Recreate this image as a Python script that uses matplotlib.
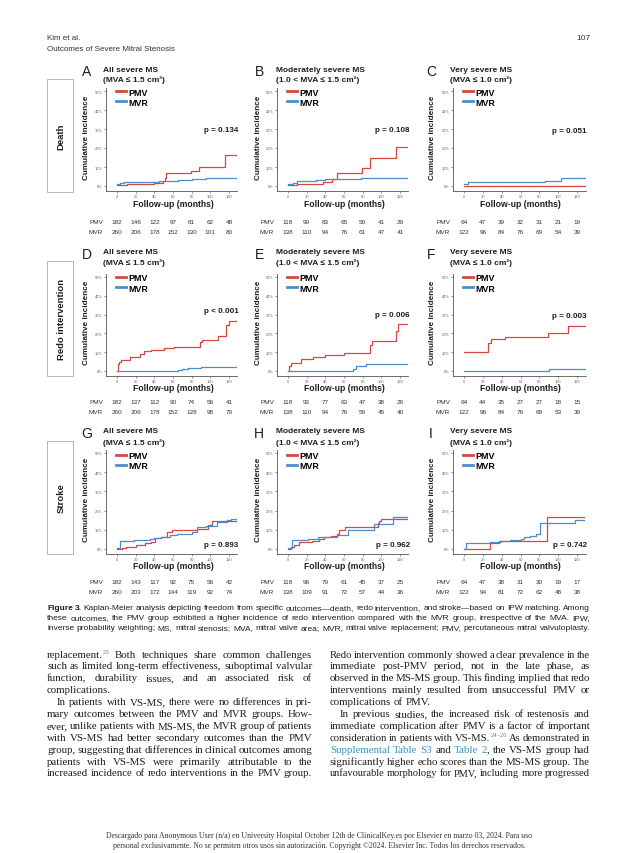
import re
import statistics
import matplotlib
matplotlib.use('Agg')
import matplotlib.pyplot as plt
from matplotlib.patches import Rectangle

# ---------------- data ----------------
TIME_POINTS = [0, 20, 40, 60, 80, 100, 120]
X_TICK_LABELS = ['0', '20', '40', '60', '80', '100', '120']
Y_TICKS = [0, 10, 20, 30, 40, 50]
Y_TICK_LABELS = ['0%', '10%', '20%', '30%', '40%', '50%']
OUTCOMES = ['Death', 'Redo intervention', 'Stroke']
PANEL_LETTERS = ['A', 'B', 'C', 'D', 'E', 'F', 'G', 'H', 'I']
SUBGROUP_TITLES = ['All severe MS', 'Moderately severe MS', 'Very severe MS']
SUBGROUP_RANGES = ['(MVA ≤ 1.5 cm²)', '(1.0 < MVA ≤ 1.5 cm²)', '(MVA ≤ 1.0 cm²)']
GROUPS = ['PMV', 'MVR']
P_VALUES = ['p = 0.134', 'p = 0.108', 'p = 0.051',
            'p < 0.001', 'p = 0.006', 'p = 0.003',
            'p = 0.893', 'p = 0.962', 'p = 0.742']

# Death
death_all_pmv_t = [0, 11, 40, 49, 51, 53, 79, 88, 116, 128]
death_all_pmv_y = [0.3, 1.0, 1.6, 2.8, 4.0, 6.8, 8.0, 10.0, 16.2, 16.2]
death_all_mvr_t = [0, 3, 8, 30, 45, 65, 80, 95, 110, 128]
death_all_mvr_y = [0.8, 1.4, 2.0, 2.2, 2.6, 3.0, 3.5, 4.0, 4.4, 4.4]
death_all_pmv_n = [182, 146, 122, 97, 81, 62, 48]
death_all_mvr_n = [260, 206, 178, 152, 130, 101, 80]

death_mod_pmv_t = [0, 10, 37, 47, 52, 79, 88, 116, 128]
death_mod_pmv_y = [0.5, 1.2, 2.3, 3.8, 6.8, 9.7, 14.8, 20.5, 20.5]
death_mod_mvr_t = [0, 5, 10, 30, 40, 78, 128]
death_mod_mvr_y = [0.8, 1.8, 2.5, 3.0, 3.6, 4.2, 4.2]
death_mod_pmv_n = [118, 99, 83, 65, 50, 41, 29]
death_mod_mvr_n = [138, 110, 94, 76, 61, 47, 41]

death_vs_pmv_t = [0, 128]
death_vs_pmv_y = [0.0, 0.0]
death_vs_mvr_t = [0, 4, 86, 103, 128]
death_vs_mvr_y = [1.0, 1.9, 2.8, 4.0, 4.0]
death_vs_pmv_n = [64, 47, 39, 32, 31, 21, 19]
death_vs_mvr_n = [122, 96, 84, 76, 69, 54, 39]

# Redo intervention
redo_all_pmv_t = [0, 1, 2, 4, 14, 25, 29, 36, 50, 61, 89, 91, 108, 117, 120, 128]
redo_all_pmv_y = [0, 3.5, 5.0, 6.0, 7.5, 9.0, 10.5, 11.2, 12.0, 12.6, 15.5, 16.3, 18.5, 24.5, 26.5, 26.5]
redo_all_mvr_t = [0, 65, 70, 76, 85, 90, 128]
redo_all_mvr_y = [0, 0.5, 1.0, 1.4, 1.8, 2.0, 2.0]
redo_all_pmv_n = [182, 137, 112, 90, 74, 56, 41]
redo_all_mvr_n = [260, 206, 178, 152, 128, 98, 79]

redo_mod_pmv_t = [0, 1, 3, 14, 27, 40, 60, 88, 90, 116, 118, 128]
redo_mod_pmv_y = [0, 2.5, 4.5, 6.5, 7.5, 8.5, 9.8, 14.0, 16.0, 21.5, 25.0, 25.0]
redo_mod_mvr_t = [0, 70, 73, 84, 128]
redo_mod_mvr_y = [0, 1.2, 2.5, 3.5, 3.5]
redo_mod_pmv_n = [118, 93, 77, 63, 47, 38, 26]
redo_mod_mvr_n = [138, 110, 94, 76, 59, 45, 40]

redo_vs_pmv_t = [0, 26, 29, 43, 89, 110, 129]
redo_vs_pmv_y = [10.0, 15.0, 16.8, 18.2, 20.3, 24.0, 24.0]
redo_vs_mvr_t = [0, 90, 129]
redo_vs_mvr_y = [0, 1.0, 1.0]
redo_vs_pmv_n = [64, 44, 35, 27, 27, 18, 15]
redo_vs_mvr_n = [122, 96, 84, 76, 69, 53, 39]

# Stroke
stroke_all_pmv_t = [0, 5, 10, 20, 30, 36, 41, 47, 54, 59, 86, 98, 102, 128]
stroke_all_pmv_y = [0, 0.5, 1.0, 2.0, 3.0, 3.5, 5.5, 6.0, 9.0, 10.0, 10.5, 12.5, 14.5, 14.5]
stroke_all_mvr_t = [0, 3, 18, 35, 40, 47, 57, 64, 80, 86, 95, 107, 118, 122, 128]
stroke_all_mvr_y = [0.5, 4.0, 4.5, 5.0, 5.5, 6.0, 7.5, 8.0, 9.0, 11.5, 12.0, 14.0, 15.0, 15.5, 15.5]
stroke_all_pmv_n = [182, 143, 117, 92, 75, 56, 42]
stroke_all_mvr_n = [260, 203, 172, 144, 119, 92, 74]

stroke_mod_pmv_t = [0, 3, 6, 12, 26, 33, 39, 46, 53, 55, 61, 96, 98, 100, 128]
stroke_mod_pmv_y = [0, 1.0, 2.0, 3.5, 4.0, 5.0, 6.5, 7.0, 8.0, 10.0, 11.4, 13.5, 14.5, 15.5, 15.5]
stroke_mod_mvr_t = [0, 4, 21, 32, 39, 52, 64, 92, 113, 128]
stroke_mod_mvr_y = [0.5, 4.5, 5.0, 6.0, 6.5, 7.5, 10.0, 13.0, 16.5, 16.5]
stroke_mod_pmv_n = [118, 96, 79, 61, 45, 37, 25]
stroke_mod_mvr_n = [138, 109, 91, 72, 57, 44, 36]

stroke_vs_pmv_t = [0, 28, 37, 88, 127]
stroke_vs_pmv_y = [0, 3.0, 4.0, 16.5, 16.5]
stroke_vs_mvr_t = [0, 2, 28, 39, 49, 60, 63.5, 70, 76, 81, 118, 127]
stroke_vs_mvr_y = [0, 3.0, 3.5, 4.0, 4.5, 5.0, 6.0, 7.0, 8.0, 13.5, 15.0, 15.0]
stroke_vs_pmv_n = [64, 47, 38, 31, 30, 19, 17]
stroke_vs_mvr_n = [122, 94, 81, 72, 62, 48, 38]

PANELS = [
    (death_all_pmv_t, death_all_pmv_y, death_all_mvr_t, death_all_mvr_y, death_all_pmv_n, death_all_mvr_n),
    (death_mod_pmv_t, death_mod_pmv_y, death_mod_mvr_t, death_mod_mvr_y, death_mod_pmv_n, death_mod_mvr_n),
    (death_vs_pmv_t, death_vs_pmv_y, death_vs_mvr_t, death_vs_mvr_y, death_vs_pmv_n, death_vs_mvr_n),
    (redo_all_pmv_t, redo_all_pmv_y, redo_all_mvr_t, redo_all_mvr_y, redo_all_pmv_n, redo_all_mvr_n),
    (redo_mod_pmv_t, redo_mod_pmv_y, redo_mod_mvr_t, redo_mod_mvr_y, redo_mod_pmv_n, redo_mod_mvr_n),
    (redo_vs_pmv_t, redo_vs_pmv_y, redo_vs_mvr_t, redo_vs_mvr_y, redo_vs_pmv_n, redo_vs_mvr_n),
    (stroke_all_pmv_t, stroke_all_pmv_y, stroke_all_mvr_t, stroke_all_mvr_y, stroke_all_pmv_n, stroke_all_mvr_n),
    (stroke_mod_pmv_t, stroke_mod_pmv_y, stroke_mod_mvr_t, stroke_mod_mvr_y, stroke_mod_pmv_n, stroke_mod_mvr_n),
    (stroke_vs_pmv_t, stroke_vs_pmv_y, stroke_vs_mvr_t, stroke_vs_mvr_y, stroke_vs_pmv_n, stroke_vs_mvr_n),
]

HEADER_AUTHOR = 'Kim et al.'
HEADER_TITLE = 'Outcomes of Severe Mitral Stenosis'
PAGE_NUMBER = '107'

CAPTION_LINES = [
    '**Figure** **3.** Kaplan-Meier analysis depicting freedom from specific outcomes—death, redo intervention, and stroke—based on IPW matching. Among',
    'these outcomes, the PMV group exhibited a higher incidence of redo intervention compared with the MVR group, irrespective of the MVA. IPW,',
    'inverse probability weighting; MS, mitral stenosis; MVA, mitral valve area; MVR, mitral valve replacement; PMV, percutaneous mitral valvuloplasty.',
]
LEFT_COLUMN = [
    ('replacement.^{23} Both techniques share common challenges', True, 0),
    ('such as limited long-term effectiveness, suboptimal valvular', True, 0),
    ('function, durability issues, and an associated risk of', True, 0),
    ('complications.', False, 0),
    ('In patients with VS-MS, there were no differences in pri-', True, 10),
    ('mary outcomes between the PMV and MVR groups. How-', True, 0),
    ('ever, unlike patients with MS-MS, the MVR group of patients', True, 0),
    ('with VS-MS had better secondary outcomes than the PMV', True, 0),
    ('group, suggesting that differences in clinical outcomes among', True, 0),
    ('patients with VS-MS were primarily attributable to the', True, 0),
    ('increased incidence of redo interventions in the PMV group.', True, 0),
]
RIGHT_COLUMN = [
    ('Redo intervention commonly showed a clear prevalence in the', True, 0),
    ('immediate post-PMV period, not in the late phase, as', True, 0),
    ('observed in the MS-MS group. This finding implied that redo', True, 0),
    ('interventions mainly resulted from unsuccessful PMV or', True, 0),
    ('complications of PMV.', False, 0),
    ('In previous studies, the increased risk of restenosis and', True, 10),
    ('immediate complication after PMV is a factor of important', True, 0),
    ('consideration in patients with VS-MS.^{24–26} As demonstrated in', True, 0),
    ('[[Supplemental]] [[Table]] [[S3]] and [[Table]] [[2]], the VS-MS group had', True, 0),
    ('significantly higher echo scores than the MS-MS group. The', True, 0),
    ('unfavourable morphology for PMV, including more progressed', True, 0),
]
FOOTER_LINES = [
    'Descargado para Anonymous User (n/a) en University Hospital October 12th de ClinicalKey.es por Elsevier en marzo 03, 2024. Para uso',
    'personal exclusivamente. No se permiten otros usos sin autorización. Copyright ©2024. Elsevier Inc. Todos los derechos reservados.',
]

# ---------------- layout / style ----------------
W, H = 638, 854
fig = plt.figure(figsize=(W / 100, H / 100), dpi=100)
fig.patch.set_facecolor('white')
renderer = fig.canvas.get_renderer()

SANS = ['Liberation Sans', 'DejaVu Sans']
SERIF = ['Liberation Serif', 'DejaVu Serif']
RED = '#d8473f'
BLUE = '#4d8ccc'
LINK = '#3a93c4'
TXT = '#1e1e1e'


def fx(x):
    return x / W


def fy(y):
    return 1 - y / H


COL_ZERO = [117, 288, 464]
COL_SCALE = [0.933, 0.933, 0.942]
ROW_ZERO = [187, 372, 550]
ROW_SCALE = [1.9, 1.88, 1.92]
XLIM = (-12, 129)
YLIM = (-2.7, 51.5)

TITLE_Y = [70, 253, 432]
RANGE_Y = [80, 263, 443]
LETTER_X = [87, 259, 431]
TITLE_X = [103, 276, 450]
YLABEL_X = [87, 258, 432]
XLABEL_Y = [204.5, 388.5, 566.5]
RISK_Y = [(223, 232.5), (403, 412.5), (583, 592.5)]
LEGEND_Y = [93.3, 279.3, 456.7]
P_Y = [[29.5, 30.0, 29.0], [32.0, 30.0, 29.5], [2.6, 2.5, 2.5]]
BOX_Y = [(79.5, 193), (262, 377), (442, 555)]

for i, (pt, py, mt, my, pn, mn) in enumerate(PANELS):
    r, c = divmod(i, 3)
    left = COL_ZERO[c] + XLIM[0] * COL_SCALE[c]
    right = COL_ZERO[c] + XLIM[1] * COL_SCALE[c]
    bottom = ROW_ZERO[r] - YLIM[0] * ROW_SCALE[r]
    top = ROW_ZERO[r] - YLIM[1] * ROW_SCALE[r]
    ax = fig.add_axes([fx(left), fy(bottom), (right - left) / W, (bottom - top) / H])
    ax.set_xlim(XLIM)
    ax.set_ylim(YLIM)
    ax.step(pt, py, where='post', color=RED, lw=0.9, label=GROUPS[0])
    ax.step(mt, my, where='post', color=BLUE, lw=0.9, label=GROUPS[1])
    for s in ('top', 'right'):
        ax.spines[s].set_visible(False)
    for s in ('left', 'bottom'):
        ax.spines[s].set_linewidth(0.6)
        ax.spines[s].set_color('#555555')
    ax.set_xticks(TIME_POINTS)
    ax.set_xticklabels(X_TICK_LABELS, fontsize=2.9, family=SANS)
    ax.set_yticks(Y_TICKS)
    ax.set_yticklabels(Y_TICK_LABELS, fontsize=2.9, family=SANS)
    ax.tick_params(length=1.3, width=0.5, pad=0.9, colors='#666666')

    # legend
    lx = (COL_ZERO[c] - 1.5 - left) / (right - left)
    ly = (bottom - (LEGEND_Y[r] - 4.8)) / (bottom - top)
    leg = ax.legend(loc='upper left', bbox_to_anchor=(lx, ly), frameon=False,
                    prop={'family': SANS, 'weight': 'bold', 'size': 6.4},
                    handlelength=1.15, handletextpad=0.25, labelspacing=0.12,
                    borderpad=0, borderaxespad=0)
    for ln in leg.get_lines():
        ln.set_linewidth(2.0)

    # p-value
    ax.text(1.01, P_Y[r][c], P_VALUES[i], transform=ax.get_yaxis_transform(),
            ha='right', va='center', fontsize=5.8, fontweight='bold', family=SANS, color=TXT)

    # titles
    fig.text(fx(LETTER_X[c]), fy(TITLE_Y[r] + 2), PANEL_LETTERS[i], ha='center', va='center',
             fontsize=10, family=SANS, color=TXT)
    fig.text(fx(TITLE_X[c]), fy(TITLE_Y[r]), SUBGROUP_TITLES[c], ha='left', va='center',
             fontsize=6.0, fontweight='bold', family=SANS, color=TXT)
    fig.text(fx(TITLE_X[c]), fy(RANGE_Y[r]), SUBGROUP_RANGES[c], ha='left', va='center',
             fontsize=6.0, fontweight='bold', family=SANS, color=TXT)

    # axis labels
    fig.text(fx(YLABEL_X[c]), fy((top + bottom) / 2 - 3), 'Cumulative incidence', rotation=90,
             ha='center', va='center', fontsize=5.9, fontweight='bold', family=SANS, color=TXT)
    fig.text(fx(COL_ZERO[c] + 60 * COL_SCALE[c]), fy(XLABEL_Y[r]), 'Follow-up (months)',
             ha='center', va='center', fontsize=6.2, fontweight='bold', family=SANS, color=TXT)

    # risk table
    for g, counts, yy in ((GROUPS[0], pn, RISK_Y[r][0]), (GROUPS[1], mn, RISK_Y[r][1])):
        fig.text(fx(COL_ZERO[c] - 14), fy(yy), g, ha='right', va='center',
                 fontsize=4.6, family=SANS, color='#333333')
        for t, n in zip(TIME_POINTS, counts):
            fig.text(fx(COL_ZERO[c] + t * COL_SCALE[c]), fy(yy), str(n), ha='center', va='center',
                     fontsize=4.6, family=SANS, color='#333333')

# row label boxes
for r, name in enumerate(OUTCOMES):
    y0, y1 = BOX_Y[r]
    fig.patches.append(Rectangle((fx(47), fy(y1)), 26 / W, (y1 - y0) / H, transform=fig.transFigure,
                                 fill=False, edgecolor='#b5b5b5', linewidth=0.7))
    fig.text(fx(61), fy((y0 + y1) / 2), name, rotation=90, ha='center', va='center',
             fontsize=6.8, fontweight='bold', family=SANS, color=TXT)

# ---------------- page text ----------------
TOKEN = re.compile(r'\^\{(.*?)\}|\[\[(.*?)\]\]|\*\*(.*?)\*\*|([^\^\[\*]+)')


def word_segments(word):
    segs = []
    for m in TOKEN.finditer(word):
        if m.group(1) is not None:
            segs.append((m.group(1), 'sup'))
        elif m.group(2) is not None:
            segs.append((m.group(2), 'link'))
        elif m.group(3) is not None:
            segs.append((m.group(3), 'bold'))
        else:
            segs.append((m.group(4), 'n'))
    return segs


def measure(s, size, family, weight='normal'):
    t = fig.text(0, 0, s, fontsize=size, family=family, fontweight=weight)
    w = t.get_window_extent(renderer).width
    t.remove()
    return w


def space_width(size, family):
    return measure('a a', size, family) - measure('aa', size, family)


def words_width(line, size, family):
    tot = 0
    for w in line.split(' '):
        for txt, st in word_segments(w):
            sz = size * 0.62 if st == 'sup' else size
            wt = 'bold' if st == 'bold' else 'normal'
            tot += measure(txt, sz, family, wt)
    return tot


def natural_fit(line, avail, family, base, squeeze):
    n = len(line.split(' '))
    ww = words_width(line, base, family)
    return base * avail / (ww + squeeze * (n - 1) * space_width(base, family))


def fit_target(lines, avails, family, base=7.0):
    ks = [natural_fit(l, a, family, base, 1.0) for l, a in zip(lines, avails)]
    return statistics.median(ks)


def draw_line(line, x0, x1, y, size, family, justify, color=TXT):
    words = line.split(' ')
    placed = []
    total = 0
    for w in words:
        items = []
        for txt, st in word_segments(w):
            kw = dict(fontsize=size, family=family, color=color, fontweight='normal')
            dy = 0
            if st == 'sup':
                kw['fontsize'] = size * 0.62
                kw['color'] = LINK
                dy = size * 0.5
            elif st == 'link':
                kw['color'] = LINK
            elif st == 'bold':
                kw['fontweight'] = 'bold'
            t = fig.text(0, 0, txt, ha='left', va='baseline', **kw)
            wd = t.get_window_extent(renderer).width
            items.append((t, dy, wd))
            total += wd
        placed.append(items)
    n = len(placed)
    gap = (x1 - x0 - total) / (n - 1) if (justify and n > 1) else space_width(size, family)
    x = x0
    for items in placed:
        for t, dy, wd in items:
            t.set_position((fx(x), fy(y - dy)))
            x += wd
        x += gap


# header
fig.text(fx(47), fy(40.5), HEADER_AUTHOR, ha='left', va='baseline', fontsize=5.8, family=SANS, color='#333333')
fig.text(fx(47), fy(51), HEADER_TITLE, ha='left', va='baseline', fontsize=5.8, family=SANS, color='#333333')
fig.text(fx(590), fy(40.5), PAGE_NUMBER, ha='right', va='baseline', fontsize=6.0, family=SANS, color='#333333')

# caption
cap_target = min(fit_target(CAPTION_LINES, [543] * 3, SANS, 5.5), 6.4)
for k, line in enumerate(CAPTION_LINES):
    s = min(cap_target, natural_fit(line, 543, SANS, 5.5, 0.7))
    draw_line(line, 47, 590, 610.5 + 9.6 * k, s, SANS, True)

# body columns
just_lines = [l for l, j, ind in LEFT_COLUMN if j] + [l for l, j, ind in RIGHT_COLUMN if j]
just_avail = [265 - ind for l, j, ind in LEFT_COLUMN if j] + [260 - ind for l, j, ind in RIGHT_COLUMN if j]
body_target = min(fit_target(just_lines, just_avail, SERIF, 7.0), 8.6)
for col, x0, x1 in ((LEFT_COLUMN, 47, 312), (RIGHT_COLUMN, 330, 590)):
    for k, (line, just, indent) in enumerate(col):
        s = body_target
        if just:
            s = min(body_target, natural_fit(line, x1 - x0 - indent, SERIF, 7.0, 0.6))
        draw_line(line, x0 + indent, x1, 657.5 + 11.9 * k, s, SERIF, just)

# footer
for k, line in enumerate(FOOTER_LINES):
    fig.text(fx(319), fy(838.5 + 9.5 * k), line, ha='center', va='baseline', fontsize=5.6,
             family=SERIF, color='#333333')

fig.savefig('out.png', dpi=100, facecolor='white')
